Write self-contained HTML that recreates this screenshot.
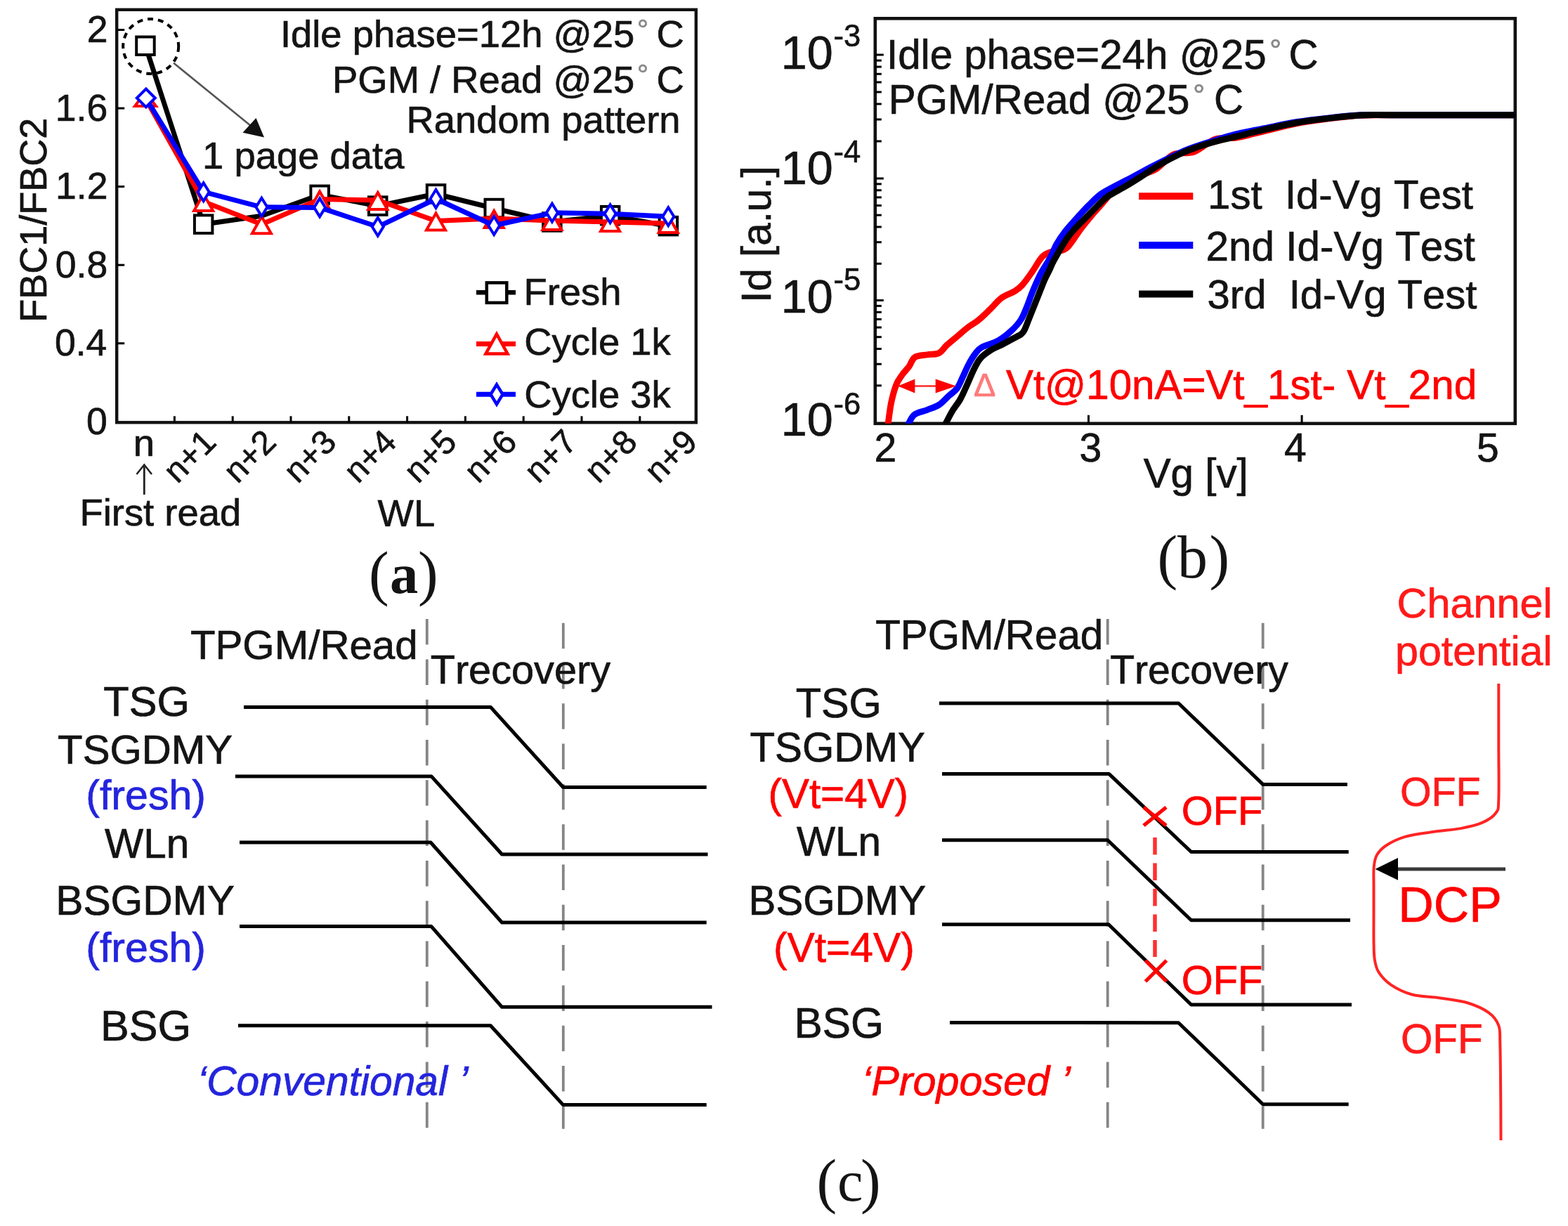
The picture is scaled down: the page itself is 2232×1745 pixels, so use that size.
<!DOCTYPE html>
<html><head><meta charset="utf-8"><title>Figure</title>
<style>
html,body{margin:0;padding:0;background:#fff;}
svg{display:block;}
text{white-space:pre;font-kerning:none;}
</style></head>
<body>
<svg width="2232" height="1745" viewBox="0 0 2232 1745">
<rect width="2232" height="1745" fill="#fff"/>
<rect x="166.2" y="13.8" width="824.5999999999999" height="587.5" fill="none" stroke="#111" stroke-width="4.4"/>
<text x="123.1" y="618.0" font-family="'Liberation Sans', Arial, sans-serif" font-size="53.5" fill="#141414" stroke="#141414" stroke-width="0.7">0</text>
<line x1="166.2" y1="488.7" x2="177.2" y2="488.7" stroke="#000" stroke-width="3"/>
<text x="78.0" y="506.4" font-family="'Liberation Sans', Arial, sans-serif" font-size="53.5" fill="#141414" stroke="#141414" stroke-width="0.7">0.4</text>
<line x1="166.2" y1="377.2" x2="177.2" y2="377.2" stroke="#000" stroke-width="3"/>
<text x="78.8" y="394.9" font-family="'Liberation Sans', Arial, sans-serif" font-size="53.5" fill="#141414" stroke="#141414" stroke-width="0.7">0.8</text>
<line x1="166.2" y1="265.6" x2="177.2" y2="265.6" stroke="#000" stroke-width="3"/>
<text x="79.1" y="283.3" font-family="'Liberation Sans', Arial, sans-serif" font-size="53.5" fill="#141414" stroke="#141414" stroke-width="0.7">1.2</text>
<line x1="166.2" y1="154.1" x2="177.2" y2="154.1" stroke="#000" stroke-width="3"/>
<text x="78.8" y="171.8" font-family="'Liberation Sans', Arial, sans-serif" font-size="53.5" fill="#141414" stroke="#141414" stroke-width="0.7">1.6</text>
<line x1="166.2" y1="42.5" x2="177.2" y2="42.5" stroke="#000" stroke-width="3"/>
<text x="123.7" y="60.2" font-family="'Liberation Sans', Arial, sans-serif" font-size="53.5" fill="#141414" stroke="#141414" stroke-width="0.7">2</text>
<line x1="248.4" y1="601.3" x2="248.4" y2="592.3" stroke="#000" stroke-width="3"/>
<line x1="331.2" y1="601.3" x2="331.2" y2="592.3" stroke="#000" stroke-width="3"/>
<line x1="414.0" y1="601.3" x2="414.0" y2="592.3" stroke="#000" stroke-width="3"/>
<line x1="496.8" y1="601.3" x2="496.8" y2="592.3" stroke="#000" stroke-width="3"/>
<line x1="579.6" y1="601.3" x2="579.6" y2="592.3" stroke="#000" stroke-width="3"/>
<line x1="662.4" y1="601.3" x2="662.4" y2="592.3" stroke="#000" stroke-width="3"/>
<line x1="745.2" y1="601.3" x2="745.2" y2="592.3" stroke="#000" stroke-width="3"/>
<line x1="828.0" y1="601.3" x2="828.0" y2="592.3" stroke="#000" stroke-width="3"/>
<line x1="910.8" y1="601.3" x2="910.8" y2="592.3" stroke="#000" stroke-width="3"/>
<text transform="translate(65.5,458.8) rotate(-90)" font-family="'Liberation Sans', Arial, sans-serif" font-size="54" fill="#141414" stroke="#141414" stroke-width="0.7">FBC1/FBC2</text>
<text x="189.7" y="649.0" font-family="'Liberation Sans', Arial, sans-serif" font-size="54.4" fill="#141414" stroke="#141414" stroke-width="0.7">n</text>
<text transform="translate(252.5,689.5) rotate(-45)" font-family="'Liberation Sans', Arial, sans-serif" font-size="48" fill="#141414" stroke="#141414" stroke-width="0.7">n+1</text>
<text transform="translate(338.1,689.5) rotate(-45)" font-family="'Liberation Sans', Arial, sans-serif" font-size="48" fill="#141414" stroke="#141414" stroke-width="0.7">n+2</text>
<text transform="translate(423.8,689.5) rotate(-45)" font-family="'Liberation Sans', Arial, sans-serif" font-size="48" fill="#141414" stroke="#141414" stroke-width="0.7">n+3</text>
<text transform="translate(509.4,689.5) rotate(-45)" font-family="'Liberation Sans', Arial, sans-serif" font-size="48" fill="#141414" stroke="#141414" stroke-width="0.7">n+4</text>
<text transform="translate(595.1,689.5) rotate(-45)" font-family="'Liberation Sans', Arial, sans-serif" font-size="48" fill="#141414" stroke="#141414" stroke-width="0.7">n+5</text>
<text transform="translate(680.7,689.5) rotate(-45)" font-family="'Liberation Sans', Arial, sans-serif" font-size="48" fill="#141414" stroke="#141414" stroke-width="0.7">n+6</text>
<text transform="translate(766.3,689.5) rotate(-45)" font-family="'Liberation Sans', Arial, sans-serif" font-size="48" fill="#141414" stroke="#141414" stroke-width="0.7">n+7</text>
<text transform="translate(852.0,689.5) rotate(-45)" font-family="'Liberation Sans', Arial, sans-serif" font-size="48" fill="#141414" stroke="#141414" stroke-width="0.7">n+8</text>
<text transform="translate(937.6,689.5) rotate(-45)" font-family="'Liberation Sans', Arial, sans-serif" font-size="48" fill="#141414" stroke="#141414" stroke-width="0.7">n+9</text>
<line x1="205.3" y1="704.0" x2="205.3" y2="664.0" stroke="#222" stroke-width="2.8"/>
<path d="M194.5,675 L205.3,661.5 L216,675" fill="none" stroke="#222" stroke-width="2.6"/>
<text x="113.5" y="747.5" font-family="'Liberation Sans', Arial, sans-serif" font-size="54.4" fill="#141414" stroke="#141414" stroke-width="0.7">First read</text>
<text x="537.6" y="749.0" font-family="'Liberation Sans', Arial, sans-serif" font-size="54.4" fill="#141414" stroke="#141414" stroke-width="0.7">WL</text>
<text x="398.9" y="67.3" font-family="'Liberation Sans', Arial, sans-serif" font-size="54.4" fill="#141414" stroke="#141414" stroke-width="0.7">Idle phase=12h @25</text>
<text x="473.1" y="131.5" font-family="'Liberation Sans', Arial, sans-serif" font-size="54.4" fill="#141414" stroke="#141414" stroke-width="0.7">PGM / Read @25</text>
<text x="906.9" y="55.8" font-family="'Liberation Sans', Arial, sans-serif" font-size="40" fill="#888" stroke="#888" stroke-width="0.7">°</text>
<text x="934.5" y="67.3" font-family="'Liberation Sans', Arial, sans-serif" font-size="54.4" fill="#141414" stroke="#141414" stroke-width="0.7">C</text>
<text x="906.9" y="120.0" font-family="'Liberation Sans', Arial, sans-serif" font-size="40" fill="#888" stroke="#888" stroke-width="0.7">°</text>
<text x="934.5" y="131.5" font-family="'Liberation Sans', Arial, sans-serif" font-size="54.4" fill="#141414" stroke="#141414" stroke-width="0.7">C</text>
<text x="578.6" y="188.8" font-family="'Liberation Sans', Arial, sans-serif" font-size="54.4" fill="#141414" stroke="#141414" stroke-width="0.7">Random pattern</text>
<text x="288.1" y="240.4" font-family="'Liberation Sans', Arial, sans-serif" font-size="54.4" fill="#141414" stroke="#141414" stroke-width="0.7">1 page data</text>
<ellipse cx="214.7" cy="66" rx="39.5" ry="39" fill="none" stroke="#000" stroke-width="4" stroke-dasharray="8 7"/>
<line x1="247.0" y1="89.5" x2="360.0" y2="181.5" stroke="#555" stroke-width="2.6"/>
<path d="M376,195.4 L345.5,188.7 L364.5,168.1 Z" fill="#111"/>
<polyline points="207.0,65.2 289.7,319.2 372.4,307.3 455.1,277.3 537.8,293.1 620.5,276.0 703.2,296.5 785.9,316.0 868.6,306.7 951.3,321.7" fill="none" stroke="#000" stroke-width="7" stroke-linejoin="round" stroke-linecap="butt"/>
<rect x="194.2" y="52.5" width="25.5" height="25.5" fill="#fff" stroke="#000" stroke-width="4"/>
<rect x="276.9" y="306.4" width="25.5" height="25.5" fill="#fff" stroke="#000" stroke-width="4"/>
<rect x="442.4" y="264.6" width="25.5" height="25.5" fill="#fff" stroke="#000" stroke-width="4"/>
<rect x="525.0" y="280.4" width="25.5" height="25.5" fill="#fff" stroke="#000" stroke-width="4"/>
<rect x="607.8" y="263.2" width="25.5" height="25.5" fill="#fff" stroke="#000" stroke-width="4"/>
<rect x="690.5" y="283.8" width="25.5" height="25.5" fill="#fff" stroke="#000" stroke-width="4"/>
<rect x="773.1" y="303.2" width="25.5" height="25.5" fill="#fff" stroke="#000" stroke-width="4"/>
<rect x="855.9" y="293.9" width="25.5" height="25.5" fill="#fff" stroke="#000" stroke-width="4"/>
<rect x="938.6" y="308.9" width="25.5" height="25.5" fill="#fff" stroke="#000" stroke-width="4"/>
<polyline points="207.0,140.0 289.7,287.0 372.4,319.3 455.1,283.6 537.8,285.0 620.5,314.5 703.2,311.0 785.9,314.0 868.6,316.0 951.3,318.0" fill="none" stroke="#ff0000" stroke-width="7" stroke-linejoin="round" stroke-linecap="butt"/>
<polygon points="207.0,131.0 222.0,151.0 192.0,151.0" fill="#fff" stroke="#ff0000" stroke-width="4" stroke-linejoin="miter"/>
<polygon points="289.7,276.0 303.2,300.0 276.2,300.0" fill="#fff" stroke="#ff0000" stroke-width="4" stroke-linejoin="miter"/>
<polygon points="372.4,308.3 385.9,332.3 358.9,332.3" fill="#fff" stroke="#ff0000" stroke-width="4" stroke-linejoin="miter"/>
<polygon points="455.1,272.6 468.6,296.6 441.6,296.6" fill="#fff" stroke="#ff0000" stroke-width="4" stroke-linejoin="miter"/>
<polygon points="537.8,274.0 551.3,298.0 524.3,298.0" fill="#fff" stroke="#ff0000" stroke-width="4" stroke-linejoin="miter"/>
<polygon points="620.5,303.5 634.0,327.5 607.0,327.5" fill="#fff" stroke="#ff0000" stroke-width="4" stroke-linejoin="miter"/>
<polygon points="703.2,300.0 716.7,324.0 689.7,324.0" fill="#fff" stroke="#ff0000" stroke-width="4" stroke-linejoin="miter"/>
<polygon points="785.9,303.0 799.4,327.0 772.4,327.0" fill="#fff" stroke="#ff0000" stroke-width="4" stroke-linejoin="miter"/>
<polygon points="868.6,305.0 882.1,329.0 855.1,329.0" fill="#fff" stroke="#ff0000" stroke-width="4" stroke-linejoin="miter"/>
<polygon points="951.3,307.0 964.8,331.0 937.8,331.0" fill="#fff" stroke="#ff0000" stroke-width="4" stroke-linejoin="miter"/>
<polyline points="207.0,138.7 289.7,273.2 372.4,294.8 455.1,295.4 537.8,322.8 620.5,283.0 703.2,321.0 785.9,302.8 868.6,304.3 951.3,308.3" fill="none" stroke="#0000ff" stroke-width="7" stroke-linejoin="round" stroke-linecap="butt"/>
<polygon points="207.8,126.5 220.8,139.5 207.8,152.5 194.8,139.5" fill="#fff" stroke="#0000ff" stroke-width="4" stroke-linejoin="miter"/>
<polygon points="289.7,260.2 297.7,273.2 289.7,286.2 281.7,273.2" fill="#fff" stroke="#0000ff" stroke-width="4" stroke-linejoin="miter"/>
<polygon points="372.4,281.8 380.4,294.8 372.4,307.8 364.4,294.8" fill="#fff" stroke="#0000ff" stroke-width="4" stroke-linejoin="miter"/>
<polygon points="455.1,282.4 463.1,295.4 455.1,308.4 447.1,295.4" fill="#fff" stroke="#0000ff" stroke-width="4" stroke-linejoin="miter"/>
<polygon points="537.8,309.8 545.8,322.8 537.8,335.8 529.8,322.8" fill="#fff" stroke="#0000ff" stroke-width="4" stroke-linejoin="miter"/>
<polygon points="620.5,270.0 628.5,283.0 620.5,296.0 612.5,283.0" fill="#fff" stroke="#0000ff" stroke-width="4" stroke-linejoin="miter"/>
<polygon points="703.2,308.0 711.2,321.0 703.2,334.0 695.2,321.0" fill="#fff" stroke="#0000ff" stroke-width="4" stroke-linejoin="miter"/>
<polygon points="785.9,289.8 793.9,302.8 785.9,315.8 777.9,302.8" fill="#fff" stroke="#0000ff" stroke-width="4" stroke-linejoin="miter"/>
<polygon points="868.6,291.3 876.6,304.3 868.6,317.3 860.6,304.3" fill="#fff" stroke="#0000ff" stroke-width="4" stroke-linejoin="miter"/>
<polygon points="951.3,295.3 959.3,308.3 951.3,321.3 943.3,308.3" fill="#fff" stroke="#0000ff" stroke-width="4" stroke-linejoin="miter"/>
<line x1="678.0" y1="416.3" x2="734.0" y2="416.3" stroke="#000" stroke-width="6.5"/>
<rect x="692.8" y="402.4" width="28.5" height="28.5" fill="#fff" stroke="#000" stroke-width="4.5"/>
<line x1="678.0" y1="489.5" x2="734.0" y2="489.5" stroke="#ff0000" stroke-width="7"/>
<polygon points="707.0,475.5 722.5,503.5 691.5,503.5" fill="#fff" stroke="#ff0000" stroke-width="4.5" stroke-linejoin="miter"/>
<line x1="678.0" y1="561.3" x2="734.0" y2="561.3" stroke="#0000ff" stroke-width="7"/>
<polygon points="707.0,547.3 715.5,561.3 707.0,575.3 698.5,561.3" fill="#fff" stroke="#0000ff" stroke-width="4.5" stroke-linejoin="miter"/>
<text x="745.5" y="434.4" font-family="'Liberation Sans', Arial, sans-serif" font-size="54.4" fill="#141414" stroke="#141414" stroke-width="0.7">Fresh</text>
<text x="746.2" y="504.7" font-family="'Liberation Sans', Arial, sans-serif" font-size="54.4" fill="#141414" stroke="#141414" stroke-width="0.7">Cycle 1k</text>
<text x="746.2" y="579.5" font-family="'Liberation Sans', Arial, sans-serif" font-size="54.4" fill="#141414" stroke="#141414" stroke-width="0.7">Cycle 3k</text>
<text x="525.0" y="845.0" font-family="'Liberation Serif', 'Times New Roman', serif" font-size="86" fill="#141414">(</text>
<text x="555.0" y="844.0" font-family="'Liberation Serif', 'Times New Roman', serif" font-size="80.5" fill="#141414" font-weight="bold">a</text>
<text x="595.1" y="845.0" font-family="'Liberation Serif', 'Times New Roman', serif" font-size="86" fill="#141414">)</text>
<rect x="1245.8" y="26.3" width="911.0000000000002" height="576.5" fill="none" stroke="#111" stroke-width="4.6"/>
<line x1="1245.8" y1="78.0" x2="1257.8" y2="78.0" stroke="#000" stroke-width="3"/>
<line x1="1245.8" y1="254.0" x2="1257.8" y2="254.0" stroke="#000" stroke-width="3"/>
<line x1="1245.8" y1="427.5" x2="1257.8" y2="427.5" stroke="#000" stroke-width="3"/>
<line x1="1245.8" y1="201.0" x2="1254.8" y2="201.0" stroke="#000" stroke-width="3"/>
<line x1="1245.8" y1="170.0" x2="1254.8" y2="170.0" stroke="#000" stroke-width="3"/>
<line x1="1245.8" y1="148.0" x2="1254.8" y2="148.0" stroke="#000" stroke-width="3"/>
<line x1="1245.8" y1="131.0" x2="1254.8" y2="131.0" stroke="#000" stroke-width="3"/>
<line x1="1245.8" y1="117.0" x2="1254.8" y2="117.0" stroke="#000" stroke-width="3"/>
<line x1="1245.8" y1="105.3" x2="1254.8" y2="105.3" stroke="#000" stroke-width="3"/>
<line x1="1245.8" y1="95.1" x2="1254.8" y2="95.1" stroke="#000" stroke-width="3"/>
<line x1="1245.8" y1="86.1" x2="1254.8" y2="86.1" stroke="#000" stroke-width="3"/>
<line x1="1245.8" y1="375.3" x2="1254.8" y2="375.3" stroke="#000" stroke-width="3"/>
<line x1="1245.8" y1="344.7" x2="1254.8" y2="344.7" stroke="#000" stroke-width="3"/>
<line x1="1245.8" y1="323.0" x2="1254.8" y2="323.0" stroke="#000" stroke-width="3"/>
<line x1="1245.8" y1="306.2" x2="1254.8" y2="306.2" stroke="#000" stroke-width="3"/>
<line x1="1245.8" y1="292.5" x2="1254.8" y2="292.5" stroke="#000" stroke-width="3"/>
<line x1="1245.8" y1="280.9" x2="1254.8" y2="280.9" stroke="#000" stroke-width="3"/>
<line x1="1245.8" y1="270.8" x2="1254.8" y2="270.8" stroke="#000" stroke-width="3"/>
<line x1="1245.8" y1="261.9" x2="1254.8" y2="261.9" stroke="#000" stroke-width="3"/>
<line x1="1245.8" y1="548.8" x2="1254.8" y2="548.8" stroke="#000" stroke-width="3"/>
<line x1="1245.8" y1="518.2" x2="1254.8" y2="518.2" stroke="#000" stroke-width="3"/>
<line x1="1245.8" y1="496.5" x2="1254.8" y2="496.5" stroke="#000" stroke-width="3"/>
<line x1="1245.8" y1="479.7" x2="1254.8" y2="479.7" stroke="#000" stroke-width="3"/>
<line x1="1245.8" y1="466.0" x2="1254.8" y2="466.0" stroke="#000" stroke-width="3"/>
<line x1="1245.8" y1="454.4" x2="1254.8" y2="454.4" stroke="#000" stroke-width="3"/>
<line x1="1245.8" y1="444.3" x2="1254.8" y2="444.3" stroke="#000" stroke-width="3"/>
<line x1="1245.8" y1="435.4" x2="1254.8" y2="435.4" stroke="#000" stroke-width="3"/>
<line x1="1549.5" y1="602.8" x2="1549.5" y2="590.8" stroke="#000" stroke-width="3"/>
<line x1="1853.1" y1="602.8" x2="1853.1" y2="590.8" stroke="#000" stroke-width="3"/>
<text x="1111.8" y="97.6" font-family="'Liberation Sans', Arial, sans-serif" font-size="66.5" fill="#141414" stroke="#141414" stroke-width="0.7">10</text>
<text x="1186.6" y="66.0" font-family="'Liberation Sans', Arial, sans-serif" font-size="43.5" fill="#141414" stroke="#141414" stroke-width="0.7">-3</text>
<text x="1111.8" y="261.6" font-family="'Liberation Sans', Arial, sans-serif" font-size="66.5" fill="#141414" stroke="#141414" stroke-width="0.7">10</text>
<text x="1186.6" y="231.4" font-family="'Liberation Sans', Arial, sans-serif" font-size="43.5" fill="#141414" stroke="#141414" stroke-width="0.7">-4</text>
<text x="1111.8" y="444.6" font-family="'Liberation Sans', Arial, sans-serif" font-size="66.5" fill="#141414" stroke="#141414" stroke-width="0.7">10</text>
<text x="1186.6" y="412.6" font-family="'Liberation Sans', Arial, sans-serif" font-size="43.5" fill="#141414" stroke="#141414" stroke-width="0.7">-5</text>
<text x="1111.8" y="619.7" font-family="'Liberation Sans', Arial, sans-serif" font-size="66.5" fill="#141414" stroke="#141414" stroke-width="0.7">10</text>
<text x="1186.6" y="589.6" font-family="'Liberation Sans', Arial, sans-serif" font-size="43.5" fill="#141414" stroke="#141414" stroke-width="0.7">-6</text>
<text transform="translate(1097,430.8) rotate(-90)" font-family="'Liberation Sans', Arial, sans-serif" font-size="58.3" fill="#141414" stroke="#141414" stroke-width="0.7">Id [a.u.]</text>
<text x="1244.5" y="656.6" font-family="'Liberation Sans', Arial, sans-serif" font-size="57" fill="#141414" stroke="#141414" stroke-width="0.7">2</text>
<text x="1536.6" y="656.6" font-family="'Liberation Sans', Arial, sans-serif" font-size="57" fill="#141414" stroke="#141414" stroke-width="0.7">3</text>
<text x="1828.1" y="656.6" font-family="'Liberation Sans', Arial, sans-serif" font-size="57" fill="#141414" stroke="#141414" stroke-width="0.7">4</text>
<text x="2102.0" y="656.6" font-family="'Liberation Sans', Arial, sans-serif" font-size="57" fill="#141414" stroke="#141414" stroke-width="0.7">5</text>
<text x="1627.7" y="693.6" font-family="'Liberation Sans', Arial, sans-serif" font-size="58.3" fill="#141414" stroke="#141414" stroke-width="0.7">Vg [v]</text>
<text x="1262.1" y="97.9" font-family="'Liberation Sans', Arial, sans-serif" font-size="58.3" fill="#141414" stroke="#141414" stroke-width="0.7">Idle phase=24h @25</text>
<text x="1807.2" y="85.9" font-family="'Liberation Sans', Arial, sans-serif" font-size="42" fill="#888" stroke="#888" stroke-width="0.7">°</text>
<text x="1834.6" y="97.9" font-family="'Liberation Sans', Arial, sans-serif" font-size="58.3" fill="#141414" stroke="#141414" stroke-width="0.7">C</text>
<text x="1264.8" y="162.2" font-family="'Liberation Sans', Arial, sans-serif" font-size="58.3" fill="#141414" stroke="#141414" stroke-width="0.7">PGM/Read @25</text>
<text x="1698.2" y="150.2" font-family="'Liberation Sans', Arial, sans-serif" font-size="42" fill="#888" stroke="#888" stroke-width="0.7">°</text>
<text x="1728.0" y="162.2" font-family="'Liberation Sans', Arial, sans-serif" font-size="58.3" fill="#141414" stroke="#141414" stroke-width="0.7">C</text>
<line x1="1621.2" y1="279.3" x2="1698.3" y2="279.3" stroke="#ff0000" stroke-width="10"/>
<line x1="1621.2" y1="348.9" x2="1698.3" y2="348.9" stroke="#0000ff" stroke-width="10"/>
<line x1="1621.2" y1="418.5" x2="1698.3" y2="418.5" stroke="#000" stroke-width="10"/>
<text x="1719.1" y="297.1" font-family="'Liberation Sans', Arial, sans-serif" font-size="58.12" fill="#141414" stroke="#141414" stroke-width="0.7">1st  Id-Vg Test</text>
<text x="1716.6" y="370.7" font-family="'Liberation Sans', Arial, sans-serif" font-size="58.42" fill="#141414" stroke="#141414" stroke-width="0.7">2nd Id-Vg Test</text>
<text x="1718.6" y="439.2" font-family="'Liberation Sans', Arial, sans-serif" font-size="58.04" fill="#141414" stroke="#141414" stroke-width="0.7">3rd  Id-Vg Test</text>
<clipPath id="cb"><rect x="1245.8" y="26.3" width="911.0000000000002" height="576.5"/></clipPath>
<g clip-path="url(#cb)">
<path d="M1263.8,606.0 C1264.6,600.7 1266.5,583.7 1268.4,574.1 C1270.4,564.5 1273.0,554.9 1275.5,548.3 C1278.0,541.6 1280.6,538.7 1283.7,534.2 C1286.8,529.7 1291.1,525.6 1294.2,521.3 C1297.3,517.0 1298.1,511.1 1302.4,508.4 C1306.7,505.7 1314.3,505.9 1320.0,504.9 C1325.7,503.9 1331.7,504.9 1336.4,502.6 C1341.1,500.3 1343.8,494.8 1348.1,490.9 C1352.4,487.0 1357.3,483.2 1362.2,479.1 C1367.1,475.0 1372.3,470.2 1377.4,466.3 C1382.5,462.4 1387.4,460.0 1392.7,455.7 C1398.0,451.4 1403.6,445.8 1409.1,440.5 C1414.6,435.2 1419.7,428.4 1425.5,424.1 C1431.3,419.8 1439.3,417.7 1444.2,414.7 C1449.1,411.7 1450.8,410.5 1455.0,405.9 C1459.2,401.3 1464.4,393.8 1469.1,387.1 C1473.8,380.5 1478.8,370.7 1483.1,366.0 C1487.4,361.3 1491.0,360.4 1494.8,359.0 C1498.6,357.6 1501.9,358.7 1506.0,357.5 C1510.1,356.3 1514.1,357.2 1519.5,352.0 C1524.9,346.8 1532.8,333.4 1538.2,326.2 C1543.6,319.0 1547.2,314.7 1552.0,309.0 C1556.8,303.3 1560.2,299.7 1567.0,292.0 C1573.8,284.3 1585.0,269.7 1593.0,263.0 C1601.0,256.3 1606.3,255.7 1615.0,252.0 C1623.7,248.3 1635.8,246.3 1645.0,241.0 C1654.2,235.7 1660.8,224.2 1670.0,220.0 C1679.2,215.8 1690.0,219.7 1700.0,216.0 C1710.0,212.3 1720.0,201.3 1730.0,198.0 C1740.0,194.7 1748.3,197.9 1760.0,196.0 C1771.7,194.1 1785.6,189.9 1800.0,186.5 C1814.4,183.1 1831.5,178.4 1846.5,175.5 C1861.5,172.6 1874.6,171.0 1889.7,169.1 C1904.8,167.2 1920.5,165.1 1937.2,164.2 C1953.9,163.3 1952.9,163.8 1990.0,163.7 C2027.1,163.6 2131.7,163.7 2160.0,163.7" fill="none" stroke="#ff0000" stroke-width="9" stroke-linejoin="round"/>
<path d="M1291.9,606.0 C1293.5,603.4 1296.6,594.3 1301.3,590.5 C1306.0,586.7 1314.2,585.8 1320.0,583.4 C1325.8,581.0 1331.3,579.7 1336.4,576.4 C1341.5,573.1 1346.2,567.4 1350.5,563.5 C1354.8,559.6 1358.9,557.5 1362.2,553.0 C1365.5,548.5 1367.7,542.3 1370.4,536.6 C1373.1,530.9 1375.7,524.5 1378.6,519.0 C1381.5,513.5 1384.9,507.9 1388.0,503.8 C1391.1,499.7 1391.9,497.5 1397.4,494.4 C1402.9,491.3 1413.8,488.9 1420.8,485.0 C1427.8,481.1 1434.0,476.0 1439.5,470.9 C1445.0,465.8 1449.7,460.8 1453.6,454.5 C1457.5,448.2 1460.3,440.0 1463.0,433.4 C1465.7,426.8 1467.0,421.8 1470.0,414.7 C1473.0,407.6 1476.7,398.5 1480.8,390.6 C1484.9,382.7 1490.9,374.4 1494.8,367.2 C1498.7,360.0 1500.7,353.6 1504.2,347.3 C1507.7,341.1 1511.3,335.8 1516.0,329.7 C1520.7,323.6 1526.6,317.3 1532.3,311.0 C1538.0,304.7 1544.1,297.8 1550.0,292.0 C1555.9,286.2 1561.3,280.5 1567.5,276.0 C1573.7,271.5 1579.1,269.2 1587.0,265.0 C1594.9,260.8 1606.7,254.9 1615.0,250.5 C1623.3,246.1 1628.8,242.8 1637.0,238.5 C1645.2,234.2 1655.2,229.1 1664.4,224.7 C1673.6,220.3 1681.8,216.1 1691.9,212.2 C1702.0,208.3 1713.8,204.7 1724.8,201.2 C1735.8,197.7 1745.3,194.4 1757.8,191.3 C1770.3,188.2 1785.2,185.7 1800.0,182.7 C1814.8,179.7 1831.5,175.9 1846.5,173.5 C1861.5,171.1 1874.6,169.7 1889.7,168.1 C1904.8,166.5 1920.5,164.4 1937.2,163.7 C1953.9,163.0 1952.9,163.7 1990.0,163.7 C2027.1,163.7 2131.7,163.7 2160.0,163.7" fill="none" stroke="#0000ff" stroke-width="9" stroke-linejoin="round"/>
<path d="M1344.6,606.0 C1346.4,602.6 1351.5,592.1 1355.2,585.8 C1358.9,579.5 1363.4,574.5 1366.9,568.2 C1370.4,562.0 1373.2,555.1 1376.3,548.3 C1379.4,541.5 1382.5,533.5 1385.6,527.2 C1388.7,521.0 1391.1,515.5 1395.0,510.8 C1398.9,506.1 1403.6,502.6 1409.1,499.1 C1414.6,495.6 1422.5,492.5 1427.8,489.7 C1433.1,486.9 1436.7,484.9 1441.0,482.5 C1445.3,480.1 1450.8,477.7 1453.6,475.6 C1456.4,473.5 1456.3,473.5 1458.1,470.0 C1459.9,466.5 1462.5,459.3 1464.5,454.4 C1466.5,449.4 1468.2,445.0 1470.1,440.3 C1472.0,435.6 1473.8,431.0 1475.7,426.3 C1477.6,421.6 1479.4,416.9 1481.3,412.2 C1483.2,407.5 1484.9,402.8 1487.0,398.1 C1489.1,393.4 1491.8,388.6 1494.0,384.1 C1496.2,379.6 1495.9,378.4 1500.0,371.0 C1504.1,363.6 1513.2,347.7 1518.7,339.6 C1524.2,331.5 1528.2,327.8 1533.0,322.5 C1537.8,317.2 1541.4,314.1 1547.7,307.8 C1554.0,301.5 1565.4,289.5 1570.8,284.5 C1576.2,279.5 1574.6,281.0 1580.0,277.6 C1585.4,274.2 1595.6,269.0 1603.4,264.4 C1611.2,259.8 1619.1,254.7 1626.9,249.7 C1634.7,244.7 1641.5,239.7 1650.3,234.6 C1659.1,229.5 1671.4,223.1 1680.0,219.0 C1688.6,214.9 1694.7,212.8 1702.0,210.2 C1709.3,207.6 1716.7,205.4 1724.0,203.3 C1731.3,201.2 1738.7,199.4 1746.0,197.6 C1753.3,195.8 1760.6,194.2 1767.9,192.4 C1775.2,190.6 1776.8,189.8 1789.9,186.8 C1803.0,183.8 1829.9,177.5 1846.5,174.5 C1863.1,171.5 1874.6,170.3 1889.7,168.6 C1904.8,166.8 1920.5,164.8 1937.2,164.0 C1953.9,163.2 1952.9,163.8 1990.0,163.7 C2027.1,163.6 2131.7,163.7 2160.0,163.7" fill="none" stroke="#000" stroke-width="9" stroke-linejoin="round"/>
</g>
<line x1="1295.0" y1="549.5" x2="1340.0" y2="549.5" stroke="#ff2a2a" stroke-width="2.6"/>
<path d="M1278,549.5 L1302.4,539.5 L1302.4,559.5 Z" fill="#f00"/>
<path d="M1361,549.5 L1331.7,539.5 L1331.7,559.5 Z" fill="#f00"/>
<text x="1386.0" y="563.5" font-family="'Liberation Sans', Arial, sans-serif" font-size="47" fill="#ff7a7a" stroke="#ff7a7a" stroke-width="0.7">Δ</text>
<text x="1432.0" y="568.0" font-family="'Liberation Sans', Arial, sans-serif" font-size="58.3" fill="#ff0000" stroke="#ff0000" stroke-width="0.7">Vt@10nA=Vt_1st- Vt_2nd</text>
<text x="1647.5" y="822.0" font-family="'Liberation Serif', 'Times New Roman', serif" font-size="86" fill="#141414">(</text>
<text x="1676.0" y="822.0" font-family="'Liberation Serif', 'Times New Roman', serif" font-size="86" fill="#141414">b</text>
<text x="1721.6" y="822.0" font-family="'Liberation Serif', 'Times New Roman', serif" font-size="86" fill="#141414">)</text>
<line x1="607.8" y1="881.1" x2="607.8" y2="1605.3" stroke="#858585" stroke-width="3.8" stroke-dasharray="36.5 20.8"/>
<line x1="801.8" y1="886.7" x2="801.8" y2="1606.7" stroke="#858585" stroke-width="3.8" stroke-dasharray="36.5 20.8"/>
<polyline points="347.0,1006.4 698.3,1006.4 801.6,1120.5 1005.7,1120.5" fill="none" stroke="#000" stroke-width="5" stroke-linejoin="round" stroke-linecap="butt"/>
<polyline points="335.0,1104.9 614.0,1104.9 714.5,1216.0 1007.5,1216.0" fill="none" stroke="#000" stroke-width="5" stroke-linejoin="round" stroke-linecap="butt"/>
<polyline points="341.0,1199.0 613.0,1199.0 714.5,1313.0 1005.7,1313.0" fill="none" stroke="#000" stroke-width="5" stroke-linejoin="round" stroke-linecap="butt"/>
<polyline points="341.0,1318.6 614.0,1318.6 714.5,1433.3 1013.5,1433.3" fill="none" stroke="#000" stroke-width="5" stroke-linejoin="round" stroke-linecap="butt"/>
<polyline points="339.0,1459.7 698.3,1459.7 801.6,1572.6 1005.7,1572.6" fill="none" stroke="#000" stroke-width="5" stroke-linejoin="round" stroke-linecap="butt"/>
<text x="270.9" y="937.6" font-family="'Liberation Sans', Arial, sans-serif" font-size="58.28" fill="#141414" stroke="#141414" stroke-width="0.7">TPGM/Read</text>
<text x="612.7" y="972.5" font-family="'Liberation Sans', Arial, sans-serif" font-size="57.68" fill="#141414" stroke="#141414" stroke-width="0.7">Trecovery</text>
<text x="147.3" y="1019.4" font-family="'Liberation Sans', Arial, sans-serif" font-size="59.64" fill="#141414" stroke="#141414" stroke-width="0.7">TSG</text>
<text x="82.1" y="1086.5" font-family="'Liberation Sans', Arial, sans-serif" font-size="58.23" fill="#141414" stroke="#141414" stroke-width="0.7">TSGDMY</text>
<text x="122.2" y="1151.8" font-family="'Liberation Sans', Arial, sans-serif" font-size="59.13" fill="#2424dd" stroke="#2424dd" stroke-width="0.7">(fresh)</text>
<text x="149.0" y="1220.5" font-family="'Liberation Sans', Arial, sans-serif" font-size="58.44" fill="#141414" stroke="#141414" stroke-width="0.7">WLn</text>
<text x="79.2" y="1302.2" font-family="'Liberation Sans', Arial, sans-serif" font-size="58.79" fill="#141414" stroke="#141414" stroke-width="0.7">BSGDMY</text>
<text x="122.2" y="1369.0" font-family="'Liberation Sans', Arial, sans-serif" font-size="59.13" fill="#2424dd" stroke="#2424dd" stroke-width="0.7">(fresh)</text>
<text x="143.1" y="1481.0" font-family="'Liberation Sans', Arial, sans-serif" font-size="61.12" fill="#141414" stroke="#141414" stroke-width="0.7">BSG</text>
<text x="281.1" y="1559.3" font-family="'Liberation Sans', Arial, sans-serif" font-size="58.76" fill="#2424dd" stroke="#2424dd" stroke-width="0.7" font-style="italic">‘Conventional ’</text>
<line x1="1576.7" y1="881.1" x2="1576.7" y2="1605.3" stroke="#858585" stroke-width="3.8" stroke-dasharray="36.5 20.8"/>
<line x1="1797.7" y1="886.7" x2="1797.7" y2="1606.7" stroke="#858585" stroke-width="3.8" stroke-dasharray="36.5 20.8"/>
<polyline points="1337.0,1001.0 1677.6,1001.0 1797.7,1116.4 1917.9,1116.4" fill="none" stroke="#000" stroke-width="5" stroke-linejoin="round" stroke-linecap="butt"/>
<polyline points="1341.0,1101.4 1578.5,1101.4 1695.6,1212.5 1919.7,1212.5" fill="none" stroke="#000" stroke-width="5" stroke-linejoin="round" stroke-linecap="butt"/>
<polyline points="1341.0,1195.7 1576.7,1195.7 1695.6,1309.8 1922.0,1309.8" fill="none" stroke="#000" stroke-width="5" stroke-linejoin="round" stroke-linecap="butt"/>
<polyline points="1341.0,1315.8 1578.0,1315.8 1695.6,1430.0 1924.0,1430.0" fill="none" stroke="#000" stroke-width="5" stroke-linejoin="round" stroke-linecap="butt"/>
<polyline points="1352.0,1455.4 1677.6,1455.7 1797.7,1571.7 1919.7,1571.7" fill="none" stroke="#000" stroke-width="5" stroke-linejoin="round" stroke-linecap="butt"/>
<text x="1246.2" y="924.0" font-family="'Liberation Sans', Arial, sans-serif" font-size="58.32" fill="#141414" stroke="#141414" stroke-width="0.7">TPGM/Read</text>
<text x="1580.2" y="972.5" font-family="'Liberation Sans', Arial, sans-serif" font-size="57.07" fill="#141414" stroke="#141414" stroke-width="0.7">Trecovery</text>
<text x="1132.7" y="1021.4" font-family="'Liberation Sans', Arial, sans-serif" font-size="59.43" fill="#141414" stroke="#141414" stroke-width="0.7">TSG</text>
<text x="1067.5" y="1084.4" font-family="'Liberation Sans', Arial, sans-serif" font-size="58.3" fill="#141414" stroke="#141414" stroke-width="0.7">TSGDMY</text>
<text x="1093.5" y="1149.8" font-family="'Liberation Sans', Arial, sans-serif" font-size="58.38" fill="#ff0000" stroke="#ff0000" stroke-width="0.7">(Vt=4V)</text>
<text x="1133.9" y="1218.4" font-family="'Liberation Sans', Arial, sans-serif" font-size="58.38" fill="#141414" stroke="#141414" stroke-width="0.7">WLn</text>
<text x="1065.5" y="1301.5" font-family="'Liberation Sans', Arial, sans-serif" font-size="58.3" fill="#141414" stroke="#141414" stroke-width="0.7">BSGDMY</text>
<text x="1101.0" y="1369.2" font-family="'Liberation Sans', Arial, sans-serif" font-size="58.74" fill="#ff0000" stroke="#ff0000" stroke-width="0.7">(Vt=4V)</text>
<text x="1130.5" y="1476.8" font-family="'Liberation Sans', Arial, sans-serif" font-size="60.36" fill="#141414" stroke="#141414" stroke-width="0.7">BSG</text>
<text x="1227.0" y="1559.2" font-family="'Liberation Sans', Arial, sans-serif" font-size="59.34" fill="#ff0000" stroke="#ff0000" stroke-width="0.7" font-style="italic">‘Proposed ’</text>
<line x1="1628.0" y1="1149.0" x2="1660.0" y2="1175.0" stroke="#ff0000" stroke-width="5.2"/>
<line x1="1628.0" y1="1175.0" x2="1660.0" y2="1149.0" stroke="#ff0000" stroke-width="5.2"/>
<line x1="1630.5" y1="1367.0" x2="1660.5" y2="1397.0" stroke="#ff0000" stroke-width="5.2"/>
<line x1="1630.5" y1="1397.0" x2="1660.5" y2="1367.0" stroke="#ff0000" stroke-width="5.2"/>
<line x1="1644.0" y1="1192.0" x2="1644.0" y2="1362.0" stroke="#ff3030" stroke-width="5.5" stroke-dasharray="24.5 12"/>
<text x="1681.7" y="1173.6" font-family="'Liberation Sans', Arial, sans-serif" font-size="57.84" fill="#ff0000" stroke="#ff0000" stroke-width="0.7">OFF</text>
<text x="1681.7" y="1414.5" font-family="'Liberation Sans', Arial, sans-serif" font-size="57.84" fill="#ff0000" stroke="#ff0000" stroke-width="0.7">OFF</text>
<path d="M2133.3,973.0 C2133.3,987.5 2133.3,1032.5 2133.3,1060.0 C2133.3,1087.5 2134.0,1121.8 2133.3,1138.0 C2132.6,1154.2 2133.2,1151.7 2129.2,1157.2 C2125.2,1162.7 2117.6,1167.6 2109.3,1171.2 C2101.0,1174.8 2091.0,1176.9 2079.4,1179.1 C2067.8,1181.2 2052.9,1182.1 2039.6,1184.1 C2026.3,1186.1 2010.7,1187.9 1999.7,1191.1 C1988.7,1194.2 1980.4,1198.7 1973.8,1203.0 C1967.2,1207.3 1962.9,1211.8 1959.9,1217.0 C1956.9,1222.2 1956.4,1226.8 1955.7,1234.0 C1955.0,1241.2 1955.5,1249.0 1955.5,1260.0 C1955.5,1271.0 1955.5,1286.7 1955.5,1300.0 C1955.5,1313.3 1955.3,1329.0 1955.5,1340.0 C1955.7,1351.0 1955.6,1358.7 1956.8,1366.0 C1958.0,1373.3 1958.7,1377.8 1962.5,1383.7 C1966.3,1389.6 1971.9,1396.3 1979.8,1401.6 C1987.7,1406.9 1998.1,1412.3 2009.7,1415.5 C2021.3,1418.7 2036.2,1418.5 2049.5,1420.5 C2062.8,1422.5 2077.8,1424.0 2089.4,1427.5 C2101.0,1431.0 2111.9,1436.1 2119.2,1441.4 C2126.5,1446.7 2130.5,1452.1 2133.2,1459.4 C2135.9,1466.7 2134.8,1468.2 2135.3,1485.0 C2135.8,1501.8 2136.0,1537.0 2136.2,1560.0 C2136.4,1583.0 2136.4,1612.5 2136.5,1623.0" fill="none" stroke="#ff2424" stroke-width="4" stroke-linejoin="round"/>
<line x1="2143.0" y1="1236.9" x2="1985.0" y2="1236.9" stroke="#3a3a3a" stroke-width="5"/>
<path d="M1957.5,1236.9 L1990,1221 L1990,1252.8 Z" fill="#000"/>
<text x="1988.6" y="878.8" font-family="'Liberation Sans', Arial, sans-serif" font-size="59.35" fill="#ff1a1a" stroke="#ff1a1a" stroke-width="0.7">Channel</text>
<text x="1986.0" y="947.2" font-family="'Liberation Sans', Arial, sans-serif" font-size="59.16" fill="#ff1a1a" stroke="#ff1a1a" stroke-width="0.7">potential</text>
<text x="1993.0" y="1147.3" font-family="'Liberation Sans', Arial, sans-serif" font-size="57.32" fill="#ff1a1a" stroke="#ff1a1a" stroke-width="0.7">OFF</text>
<text x="1990.3" y="1311.6" font-family="'Liberation Sans', Arial, sans-serif" font-size="69.82" fill="#ff0000" stroke="#ff0000" stroke-width="0.7">DCP</text>
<text x="1993.9" y="1499.2" font-family="'Liberation Sans', Arial, sans-serif" font-size="58.36" fill="#ff1a1a" stroke="#ff1a1a" stroke-width="0.7">OFF</text>
<text x="1162.4" y="1710.0" font-family="'Liberation Serif', 'Times New Roman', serif" font-size="86" fill="#141414">(</text>
<text x="1191.9" y="1709.0" font-family="'Liberation Serif', 'Times New Roman', serif" font-size="82" fill="#141414">c</text>
<text x="1225.0" y="1710.0" font-family="'Liberation Serif', 'Times New Roman', serif" font-size="86" fill="#141414">)</text>
</svg>
</body></html>
